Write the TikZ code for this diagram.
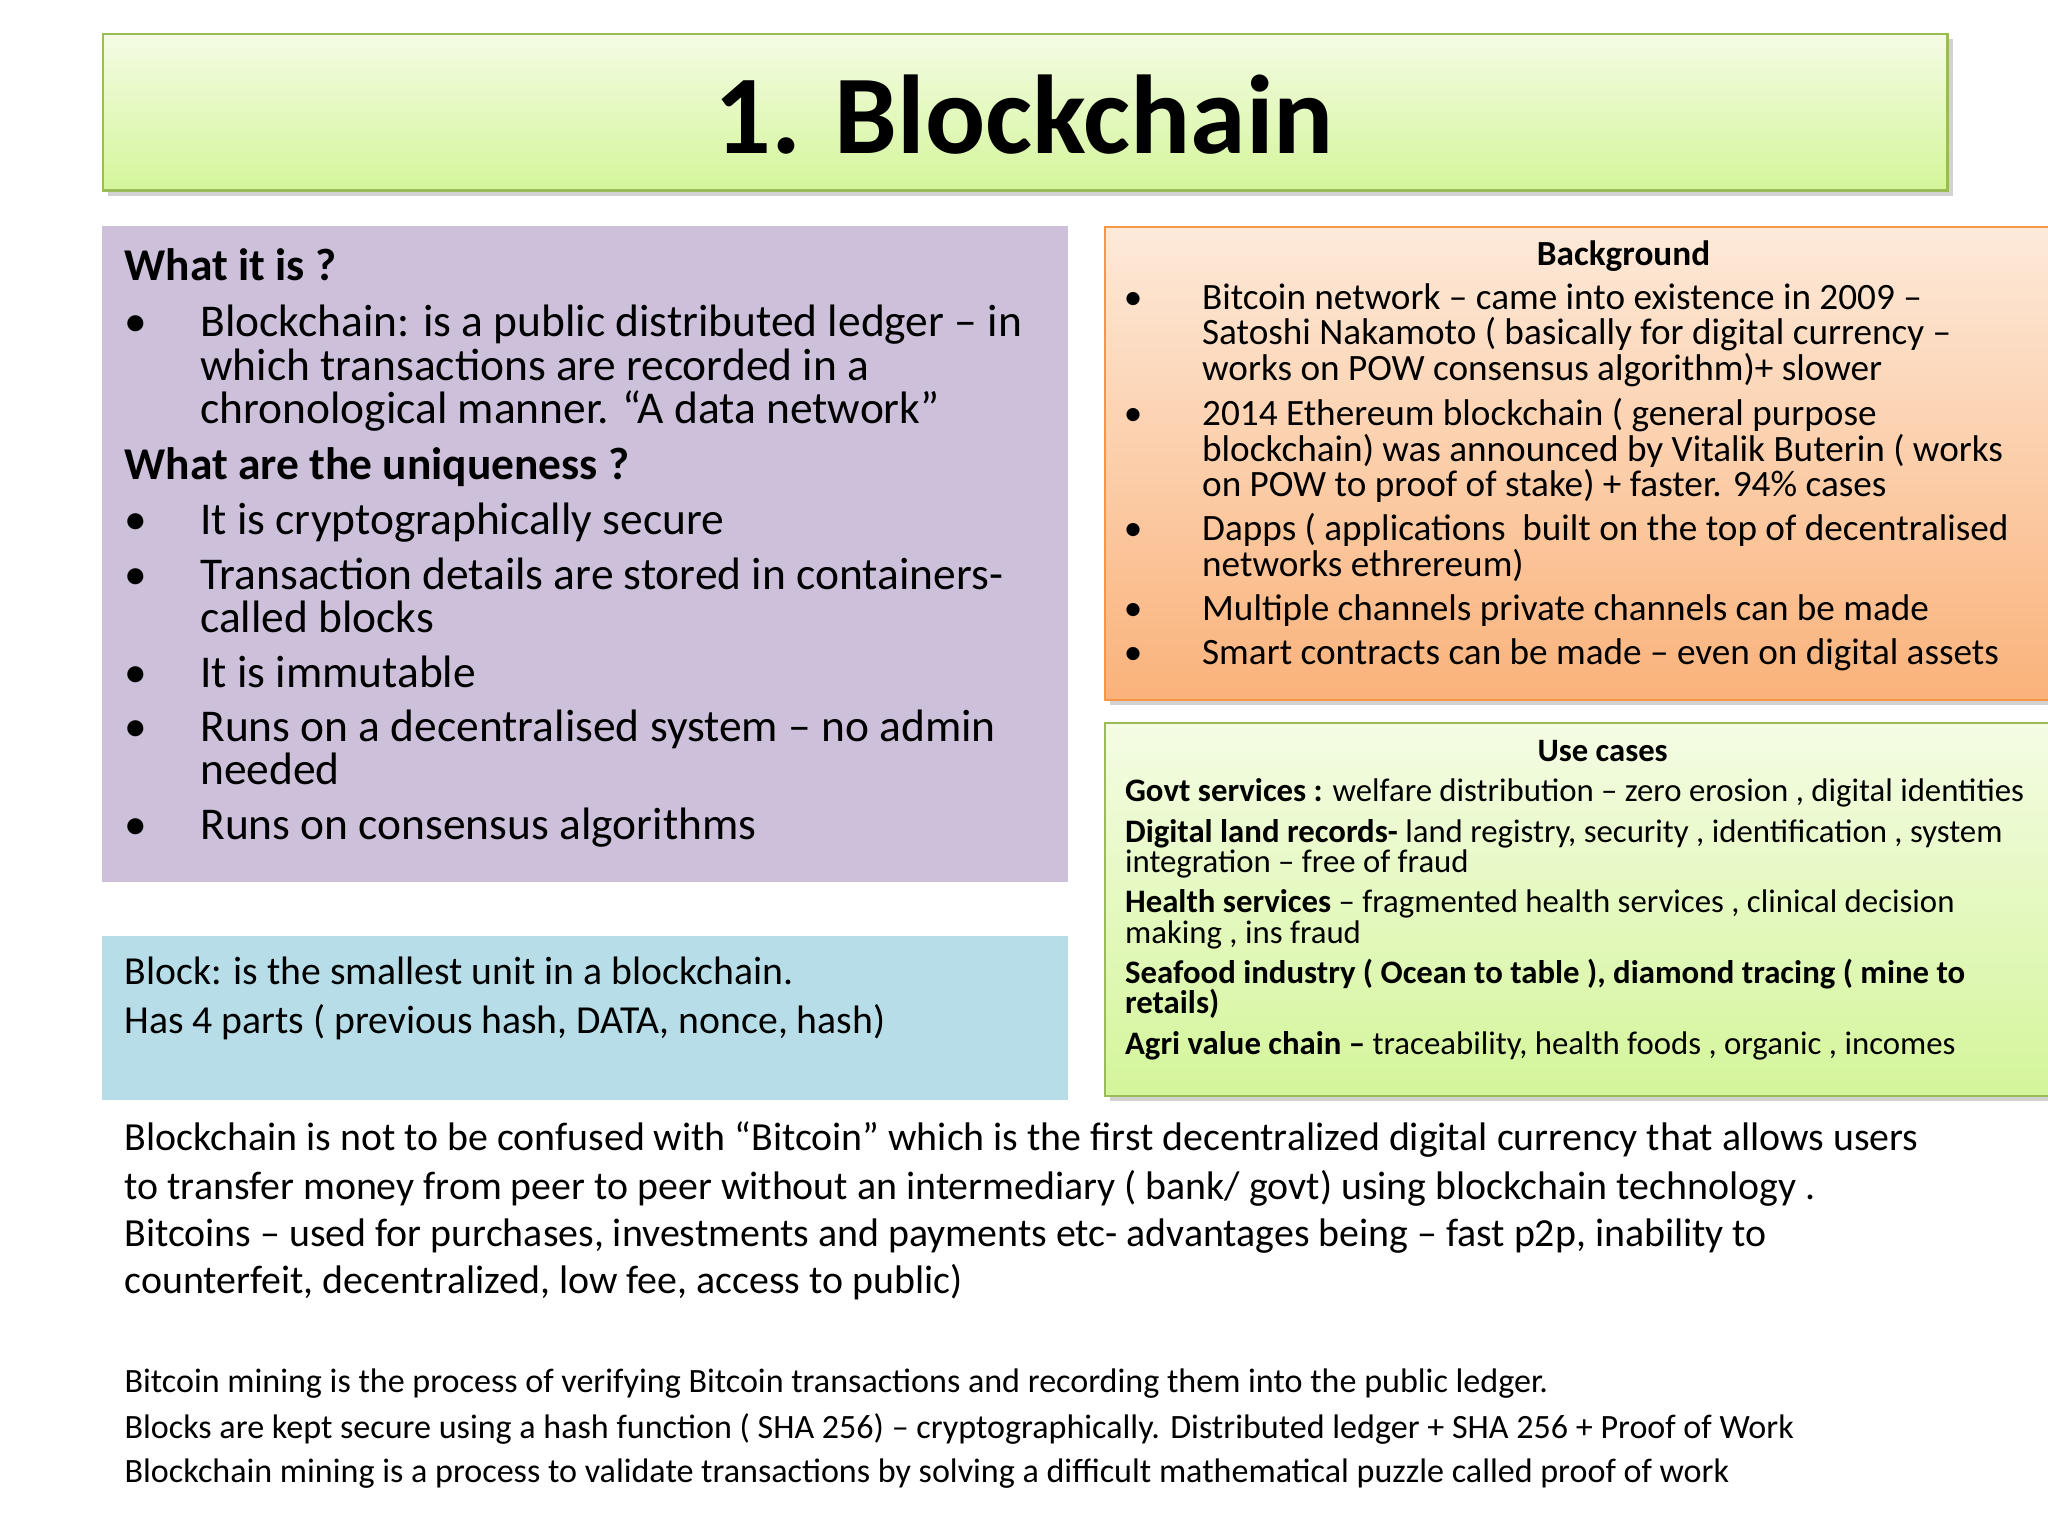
\documentclass[tikz,border=0pt]{standalone}
\usepackage{fontspec}
\setmainfont{Carlito}
\usetikzlibrary{shadows}
\definecolor{purp}{HTML}{CCC0DA}
\definecolor{blu}{HTML}{B7DEE8}
\definecolor{orT}{HTML}{FDEADA}
\definecolor{orB}{HTML}{FAB27A}
\definecolor{gT}{HTML}{F4FCE4}
\definecolor{gB}{HTML}{D4F59A}
\definecolor{gBd}{HTML}{9BBB59}
\definecolor{oBd}{HTML}{F79646}
\newcommand{\Ln}[5]{\node[anchor=base west,inner sep=0pt,yshift=-1pt,font=#5] (#1) at (#2,#3) {#4};}
\tikzset{shd/.style={drop shadow={shadow xshift=2pt,shadow yshift=-2pt,opacity=0.35,fill=black!50}}}
\begin{document}
\begin{tikzpicture}[x=0.5pt,y=-0.5pt]
\useasboundingbox (0,0) rectangle (1568,1176);
\fill[white] (0,0) rectangle (1568,1176);
% title
\node[shd,draw=gBd,line width=1pt,top color=gT,bottom color=gB,minimum width=706pt,minimum height=60pt,anchor=north west,inner sep=0pt] (title) at (78,25) {};
\node[font=\fontsize{42.9}{48}\selectfont\bfseries] (tt) at (784,88) {1. Blockchain};
% purple
\fill[purp] (78,173) rectangle (818,675);
\def\pf{\fontsize{17.4}{20}\selectfont}
\Ln{p1}{95}{213}{\textbf{What it is ?}}{\pf}
\Ln{b1}{95}{256}{•}{\pf}
\Ln{p2}{153}{256}{Blockchain: is a public distributed ledger – in}{\pf}
\Ln{p3}{153}{289}{which transactions are recorded in a}{\pf}
\Ln{p4}{153}{322}{chronological manner. “A data network”}{\pf}
\Ln{p5}{95}{365}{\textbf{What are the uniqueness ?}}{\pf}
\Ln{b2}{95}{407}{•}{\pf}
\Ln{p6}{153}{407}{It is cryptographically secure}{\pf}
\Ln{b3}{95}{449}{•}{\pf}
\Ln{p7}{153}{449}{Transaction details are stored in containers-}{\pf}
\Ln{p8}{153}{482}{called blocks}{\pf}
\Ln{b4}{95}{524}{•}{\pf}
\Ln{p9}{153}{524}{It is immutable}{\pf}
\Ln{b5}{95}{566}{•}{\pf}
\Ln{p10}{153}{566}{Runs on a decentralised system – no admin}{\pf}
\Ln{p11}{153}{599}{needed}{\pf}
\Ln{b6}{95}{641}{•}{\pf}
\Ln{p12}{153}{641}{Runs on consensus algorithms}{\pf}
% blue
\fill[blu] (78,717) rectangle (818,842);
\def\qf{\fontsize{15.2}{18}\selectfont}
\Ln{q1}{95}{752}{Block: is the smallest unit in a blockchain.}{\qf}
\Ln{q2}{95}{789}{Has 4 parts ( previous hash, DATA, nonce, hash)}{\qf}
% orange
\node[shd,draw=oBd,line width=0.8pt,top color=orT,bottom color=orB,minimum width=361.5pt,minimum height=181pt,anchor=north west,inner sep=0pt] (obox) at (845,173) {};
\def\of{\fontsize{14.24}{16}\selectfont}
\node[font=\fontsize{13.5}{15}\selectfont\bfseries,anchor=base,inner sep=0pt,yshift=-1pt] (oh) at (1243,201) {Background};
\Ln{ob1}{860}{235}{•}{\of}
\Ln{o1}{920}{235}{Bitcoin network – came into existence in 2009 –}{\of}
\Ln{o2}{920}{262}{Satoshi Nakamoto ( basically for digital currency –}{\of}
\Ln{o3}{920}{289}{works on POW consensus algorithm)+ slower}{\of}
\Ln{ob2}{860}{324}{•}{\of}
\Ln{o4}{920}{324}{2014 Ethereum blockchain ( general purpose}{\of}
\Ln{o5}{920}{351}{blockchain) was announced by Vitalik Buterin ( works}{\of}
\Ln{o6}{920}{378}{on POW to proof of stake) + faster. 94\% cases}{\of}
\Ln{ob3}{860}{412}{•}{\of}
\Ln{o7}{920}{412}{Dapps ( applications\ \ built on the top of decentralised}{\of}
\Ln{o8}{920}{439}{networks ethrereum)}{\of}
\Ln{ob4}{860}{473}{•}{\of}
\Ln{o9}{920}{473}{Multiple channels private channels can be made}{\of}
\Ln{ob5}{860}{507}{•}{\of}
\Ln{o10}{920}{507}{Smart contracts can be made – even on digital assets}{\of}
% green
\node[shd,draw=gBd,line width=0.8pt,top color=gT,bottom color=gB,minimum width=361.5pt,minimum height=142.5pt,anchor=north west,inner sep=0pt] (gbox) at (845,553) {};
\def\gf{\fontsize{12.55}{14}\selectfont}
\node[font=\fontsize{12.5}{14}\selectfont\bfseries,anchor=base,inner sep=0pt,yshift=-1pt] (gh) at (1227,581) {Use cases};
\Ln{g1}{861}{612}{\textbf{Govt services :} welfare distribution – zero erosion , digital identities}{\gf}
\Ln{g2}{861}{643}{\textbf{Digital land records-} land registry, security , identification , system}{\gf}
\Ln{g3}{861}{666}{integration – free of fraud}{\gf}
\Ln{g4}{861}{697}{\textbf{Health services} – fragmented health services , clinical decision}{\gf}
\Ln{g5}{861}{720}{making , ins fraud}{\gf}
\Ln{g6}{861}{751}{\textbf{Seafood industry ( Ocean to table ), diamond tracing ( mine to}}{\gf}
\Ln{g7}{861}{774}{\textbf{retails)}}{\gf}
\Ln{g8}{861}{805}{\textbf{Agri value chain –} traceability, health foods , organic , incomes}{\gf}
% bottom paragraph
\def\bpf{\fontsize{15.26}{18}\selectfont}
\Ln{t1}{95}{879}{Blockchain is not to be confused with “Bitcoin” which is the first decentralized digital currency that allows users}{\bpf}
\Ln{t2}{95}{916}{to transfer money from peer to peer without an intermediary ( bank/ govt) using blockchain technology .}{\bpf}
\Ln{t3}{95}{952}{Bitcoins – used for purchases, investments and payments etc- advantages being – fast p2p, inability to}{\bpf}
\Ln{t4}{95}{988}{counterfeit, decentralized, low fee, access to public)}{\bpf}
\def\smf{\fontsize{13.04}{15}\selectfont}
\Ln{s1}{95}{1064}{Bitcoin mining is the process of verifying Bitcoin transactions and recording them into the public ledger.}{\smf}
\Ln{s2}{95}{1099}{Blocks are kept secure using a hash function ( SHA 256) – cryptographically. Distributed ledger + SHA 256 + Proof of Work}{\smf}
\Ln{s3}{95}{1133}{Blockchain mining is a process to validate transactions by solving a difficult mathematical puzzle called proof of work}{\smf}
\end{tikzpicture}
\end{document}
